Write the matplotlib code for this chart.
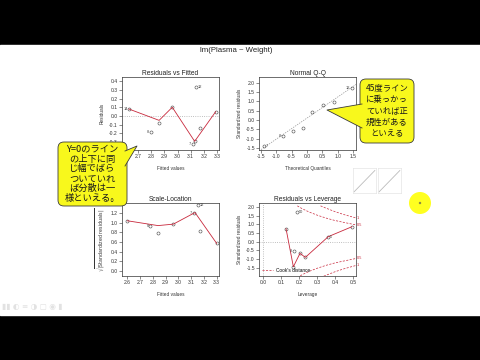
import matplotlib.pyplot as plt
from matplotlib.patches import FancyBboxPatch, Polygon, Circle, Rectangle
from matplotlib.ticker import FormatStrFormatter

plt.rcParams['font.family'] = ['Liberation Sans', 'DejaVu Sans']
plt.rcParams['axes.unicode_minus'] = False

W, H = 480, 360

# Residuals vs Fitted
rf_fitted = [2.63, 2.80, 2.86, 2.96, 3.12, 3.13, 3.14, 3.17, 3.29]
rf_resid = [0.08, -0.18, -0.08, 0.10, -0.32, -0.29, 0.33, -0.14, 0.05]
rf_smooth_x = [2.63, 2.86, 2.96, 3.13, 3.29]
rf_smooth_y = [0.08, -0.05, 0.10, -0.29, 0.05]

# Normal Q-Q
qq_theo = [-1.39, -0.79, -0.44, -0.14, 0.16, 0.51, 0.88, 1.45]
qq_std = [-1.38, -0.86, -0.61, -0.45, 0.41, 0.80, 0.95, 1.70]
qq_line_x = [-1.75, 1.6]
qq_line_y = [-1.88, 1.92]

# Scale-Location
sl_fitted = [2.60, 2.78, 2.84, 2.96, 3.12, 3.15, 3.17, 3.30]
sl_sqrt = [1.04, 0.94, 0.79, 0.97, 1.21, 1.37, 0.83, 0.57]
sl_smooth_x = [2.60, 2.84, 2.96, 3.13, 3.30]
sl_smooth_y = [1.04, 0.94, 0.97, 1.21, 0.57]

# Residuals vs Leverage
rl_lev = [0.127, 0.168, 0.171, 0.19, 0.205, 0.235, 0.363, 0.495]
rl_std = [0.75, -1.44, -0.53, 1.68, -0.67, -0.90, 0.29, 0.86]
rl_smooth_x = [0.127, 0.168, 0.205, 0.235, 0.363, 0.495]
rl_smooth_y = [0.75, -1.44, -0.67, -0.90, 0.29, 0.86]
cook05_x = [0.19, 0.22, 0.26, 0.30, 0.35, 0.40, 0.45, 0.52]
cook05_y = [2.06, 1.88, 1.69, 1.53, 1.36, 1.22, 1.11, 0.96]
cook1_x = [0.32, 0.35, 0.40, 0.45, 0.52]
cook1_y = [2.06, 1.93, 1.73, 1.56, 1.36]

# thumbnail in the slide
thumb_x = [0.05, 0.95]
thumb_y = [0.05, 0.9]

note_left = "Y=0のライン\nの上下に同\nじ幅でばら\nついていれ\nば分散は一\n様といえる。"
note_right = "45度ライン\nに乗っかっ\nていれば正\n規性がある\nといえる"

RED = '#c8283c'


def px_rect(x0, y0, x1, y1):
    return [x0 / W, 1 - y1 / H, (x1 - x0) / W, (y1 - y0) / H]


def style(ax, title, xlabel, ylabel):
    ax.set_facecolor('none')
    for s in ax.spines.values():
        s.set_linewidth(0.5)
        s.set_color('#333333')
    ax.tick_params(length=2, width=0.4, pad=1, labelsize=3.6, colors='#333333')
    ax.xaxis.set_major_formatter(FormatStrFormatter('%.1f'))
    ax.yaxis.set_major_formatter(FormatStrFormatter('%.1f'))
    ax.set_title(title, fontsize=4.8, pad=1.5, color='#222222')
    ax.set_xlabel(xlabel, fontsize=3.4, labelpad=5, color='#333333')
    ax.set_ylabel(ylabel, fontsize=3.4, labelpad=3, color='#333333')


def points(ax, x, y):
    ax.plot(x, y, 'o', mfc='none', mec='#444444', ms=2.2, mew=0.4)


def lab(ax, x, y, s, dx):
    ax.annotate(s, (x, y), xytext=(dx, 0), textcoords='offset points',
                fontsize=2.8, color='#444444', va='center',
                ha='left' if dx > 0 else 'right')


fig = plt.figure(figsize=(4.8, 3.6), dpi=100)
fig.patch.set_facecolor('black')

bg = fig.add_axes([0, 0, 1, 1], zorder=-5)
bg.set_xlim(0, W)
bg.set_ylim(H, 0)
bg.axis('off')
bg.add_patch(Rectangle((0, 45), W, 270, color='white'))
bg.text(236, 50, 'lm(Plasma ~ Weight)', fontsize=5.6, ha='center', va='center', color='#222222')
bg.text(2, 307, '▮▮ ◐ ≡ ◑ ▢ ◉ ▮', fontsize=5.5, color='#e2e2e2', va='center',
        family=['DejaVu Sans'])

# Residuals vs Fitted
ax1 = fig.add_axes(px_rect(122, 77, 219, 150))
ax1.axhline(0, color='#aaaaaa', ls=':', lw=0.6)
points(ax1, rf_fitted, rf_resid)
ax1.plot(rf_smooth_x, rf_smooth_y, color=RED, lw=0.6)
ax1.set_xlim(2.578, 3.315)
ax1.set_ylim(-0.389, 0.446)
ax1.set_xticks([2.6, 2.7, 2.8, 2.9, 3.0, 3.1, 3.2, 3.3])
ax1.set_yticks([-0.3, -0.2, -0.1, 0.0, 0.1, 0.2, 0.3, 0.4])
style(ax1, 'Residuals vs Fitted', 'Fitted values', 'Residuals')
lab(ax1, rf_fitted[6], rf_resid[6], '12', 1.5)
lab(ax1, rf_fitted[1], rf_resid[1], '8', -1.5)
lab(ax1, rf_fitted[4], rf_resid[4], '7', -1.5)
lab(ax1, rf_fitted[0], rf_resid[0], '14', -0.5)

# Normal Q-Q
ax2 = fig.add_axes(px_rect(259, 77, 356, 150))
ax2.plot(qq_line_x, qq_line_y, color='#999999', ls=(0, (2, 1.5)), lw=0.5)
points(ax2, qq_theo, qq_std)
ax2.set_xlim(-1.555, 1.587)
ax2.set_ylim(-1.607, 2.305)
ax2.set_xticks([-1.5, -1.0, -0.5, 0.0, 0.5, 1.0, 1.5])
ax2.set_yticks([-1.5, -1.0, -0.5, 0.0, 0.5, 1.0, 1.5, 2.0])
style(ax2, 'Normal Q-Q', 'Theoretical Quantiles', 'Standardized residuals')
lab(ax2, qq_theo[-1], qq_std[-1], '12', -1.5)
lab(ax2, qq_theo[0], qq_std[0], '7', 1.2)
lab(ax2, qq_theo[1], qq_std[1], '8', -1.2)

# Scale-Location
ax3 = fig.add_axes(px_rect(122, 203, 219, 276))
points(ax3, sl_fitted, sl_sqrt)
ax3.plot(sl_smooth_x, sl_smooth_y, color=RED, lw=0.6)
ax3.set_xlim(2.558, 3.318)
ax3.set_ylim(-0.104, 1.408)
ax3.set_xticks([2.6, 2.7, 2.8, 2.9, 3.0, 3.1, 3.2, 3.3])
ax3.set_yticks([0.0, 0.2, 0.4, 0.6, 0.8, 1.0, 1.2])
style(ax3, 'Scale-Location', 'Fitted values', r'$\sqrt{|\mathrm{Standardized\ residuals}|}$')
lab(ax3, sl_fitted[5], sl_sqrt[5], '12', 1.2)
lab(ax3, sl_fitted[1], sl_sqrt[1], '8', -1.2)
lab(ax3, sl_fitted[4], sl_sqrt[4], '7', -1.2)

# Residuals vs Leverage
ax4 = fig.add_axes(px_rect(259, 203, 356, 276))
ax4.axhline(0, color='#aaaaaa', ls=':', lw=0.6)
ax4.axvline(0, color='#aaaaaa', ls=':', lw=0.6)
points(ax4, rl_lev, rl_std)
ax4.plot(rl_smooth_x, rl_smooth_y, color=RED, lw=0.6)
ax4.plot(cook05_x, cook05_y, color=RED, ls='--', lw=0.5, dashes=(3, 2),
         label="Cook's distance")
ax4.plot(cook05_x, [-v for v in cook05_y], color=RED, ls='--', lw=0.5, dashes=(3, 2))
ax4.plot(cook1_x, cook1_y, color=RED, ls='--', lw=0.5, dashes=(3, 2))
ax4.plot(cook1_x, [-v for v in cook1_y], color=RED, ls='--', lw=0.5, dashes=(3, 2))
ax4.set_xlim(-0.024, 0.518)
ax4.set_ylim(-1.971, 2.224)
ax4.set_xticks([0.0, 0.1, 0.2, 0.3, 0.4, 0.5])
ax4.set_yticks([-1.5, -1.0, -0.5, 0.0, 0.5, 1.0, 1.5, 2.0])
style(ax4, 'Residuals vs Leverage', 'Leverage', 'Standardized residuals')
for lv, yy in [('0.5', cook05_y[-1]), ('1', cook1_y[-1]), ('0.5', -cook05_y[-1]), ('1', -cook1_y[-1])]:
    ax4.text(0.522, yy, lv, fontsize=2.8, color=RED, va='center', ha='left', clip_on=False)
lab(ax4, rl_lev[3], rl_std[3], '50', 1.2)
lab(ax4, rl_lev[2], rl_std[2], '8', -1.2)
lab(ax4, rl_lev[6], rl_std[6], '5', 1.2)
ax4.legend(loc='lower left', frameon=False, fontsize=3.4, handlelength=2.2,
           handletextpad=0.6, borderaxespad=0.3)

# thumbnail picture on the slide
for x0 in (353, 378):
    th = fig.add_axes(px_rect(x0, 168, x0 + 23, 193))
    th.plot(thumb_x, thumb_y, color='#bbbbbb', lw=0.6)
    th.set_xlim(0, 1)
    th.set_ylim(0, 1)
    th.set_xticks([])
    th.set_yticks([])
    for s in th.spines.values():
        s.set_color('#dddddd')
        s.set_linewidth(0.4)

# overlay: callouts and pointer highlight
ov = fig.add_axes([0, 0, 1, 1], zorder=10)
ov.set_xlim(0, W)
ov.set_ylim(H, 0)
ov.axis('off')
ov.patch.set_alpha(0)

YEL = '#f8f81c'
EDGE = '#3a3a3a'


def callout(x0, y0, x1, y1, tip, base1, base2, text, fs, ls):
    ov.add_patch(FancyBboxPatch((x0, y0), x1 - x0, y1 - y0,
                                boxstyle='round,pad=0,rounding_size=6',
                                fc=YEL, ec=EDGE, lw=0.6))
    ov.add_patch(Polygon([base1, tip, base2], closed=True, fc=YEL, ec='none'))
    ov.plot([base1[0], tip[0], base2[0]], [base1[1], tip[1], base2[1]], color=EDGE, lw=0.6)
    ov.text((x0 + x1) / 2, (y0 + y1) / 2, text, fontsize=fs, linespacing=ls,
            ha='center', va='center', color='#1a1a1a',
            family=['Noto Sans CJK JP', 'DejaVu Sans'])


callout(58, 142, 127, 206, (137, 146), (125, 151), (125, 166), note_left, 6.7, 1.12)
callout(360, 79, 414, 143, (327, 110), (362, 104), (362, 128), note_right, 6.0, 1.3)

ov.add_patch(Circle((420, 203), 11, fc='#ffff20', ec='none'))
ov.add_patch(Circle((420, 203), 1.2, fc='#888844', ec='none'))

fig.savefig('out.png', dpi=100, facecolor=fig.get_facecolor())
